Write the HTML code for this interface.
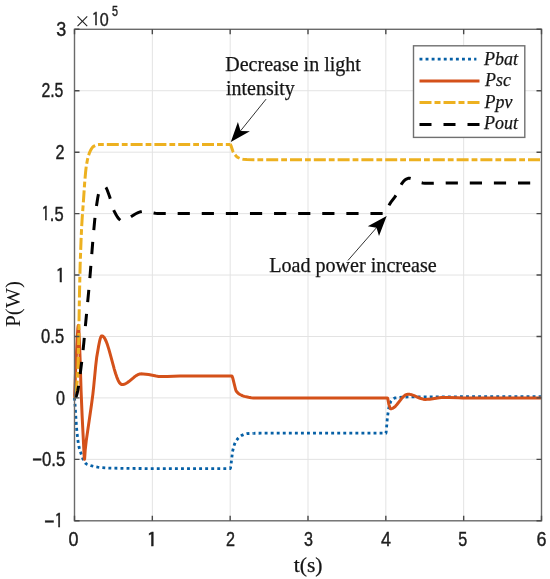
<!DOCTYPE html>
<html><head><meta charset="utf-8"><style>
html,body{margin:0;padding:0;background:#fff;}
svg{display:block;}
.sr{font-family:"Liberation Serif","Times New Roman",serif;fill:#151515;}
</style></head><body>
<svg width="550" height="579" viewBox="0 0 550 579">
<rect width="550" height="579" fill="#fff"/>
<g stroke="#e3e3e3" stroke-width="1"><line x1="152.33" y1="29.30" x2="152.33" y2="520.80"/><line x1="230.17" y1="29.30" x2="230.17" y2="520.80"/><line x1="308.00" y1="29.30" x2="308.00" y2="520.80"/><line x1="385.83" y1="29.30" x2="385.83" y2="520.80"/><line x1="463.67" y1="29.30" x2="463.67" y2="520.80"/><line x1="74.50" y1="459.36" x2="541.50" y2="459.36"/><line x1="74.50" y1="397.92" x2="541.50" y2="397.92"/><line x1="74.50" y1="336.49" x2="541.50" y2="336.49"/><line x1="74.50" y1="275.05" x2="541.50" y2="275.05"/><line x1="74.50" y1="213.61" x2="541.50" y2="213.61"/><line x1="74.50" y1="152.18" x2="541.50" y2="152.18"/><line x1="74.50" y1="90.74" x2="541.50" y2="90.74"/></g>
<path d="M74.50 397.92L75.16 406.23L76.48 426.89L76.95 432.18L77.81 439.55L78.43 444.09L78.99 446.92L79.77 449.80L81.95 456.30L82.93 458.87L84.37 461.63L84.99 462.61L85.55 463.32L86.02 463.73L86.82 464.21L88.80 465.06L90.98 465.70L95.73 466.84L97.67 467.16L100.40 467.44L108.16 468.02L112.95 468.20L125.73 468.40L149.06 468.58L230.19 468.58L230.34 468.39L230.52 467.86L230.89 465.83L232.27 453.76L232.56 451.70L232.87 450.14L233.69 446.80L234.47 444.31L235.38 442.25L236.47 440.36L237.89 438.54L238.92 437.50L239.93 436.62L241.47 435.59L243.96 434.43L245.50 433.88L246.86 433.60L253.52 433.30" fill="none" stroke="#0660A6" stroke-width="2.8" stroke-dasharray="2.9 3.15" stroke-dashoffset="0.15"/><path d="M253.52 433.30L261.05 433.19L385.83 433.19L386.05 432.58L386.30 430.56L387.35 417.90L388.40 410.44L389.22 405.93L389.57 404.55L389.94 403.49L390.50 402.15L391.09 401.03L391.98 399.84L392.84 399.10L393.62 398.55" fill="none" stroke="#0660A6" stroke-width="2.8" stroke-dasharray="2.9 3.15" stroke-dashoffset="0.97"/><path d="M393.62 398.55L394.32 398.18L394.98 397.96L398.33 397.52L403.05 397.12L408.15 396.95L466.53 396.75L541.50 396.70" fill="none" stroke="#0660A6" stroke-width="2.8" stroke-dasharray="2.9 3.15" stroke-dashoffset="0.00"/>
<path d="M74.50 397.92L75.59 370.68L77.17 338.82L77.83 328.72L78.12 326.24L78.26 325.64L78.39 325.43L78.59 326.19L78.80 328.56L79.31 338.69L80.12 359.61L81.08 390.74L82.13 416.03L84.17 456.18L84.33 458.57L84.46 459.36L84.58 458.91L84.70 457.73L85.22 449.73L86.23 440.85L91.51 404.47L92.85 394.35L93.69 386.58L95.67 366.03L96.66 357.56L98.47 346.89L99.70 340.76L100.24 338.64L100.75 337.14L101.24 336.22L101.47 335.97L101.70 335.88L102.17 335.94L102.79 336.18L103.43 336.71L103.86 337.18L104.47 338.01L105.05 339.01L106.22 341.51L107.46 344.85L108.81 349.09L110.28 354.31L114.27 369.10L115.58 373.47L116.71 376.83L118.07 380.18L119.31 382.48L120.01 383.41L120.66 384.02L121.08 384.30L121.80 384.52L122.91 384.47L123.96 384.26L125.15 383.85L126.32 383.27L127.52 382.53L128.83 381.58L133.96 377.28L136.20 375.64L137.41 374.93L138.63 374.38L139.72 374.04L140.85 373.87L143.23 373.89L145.87 374.15L148.54 374.58L156.13 376.07L158.56 376.39L160.80 376.53L167.34 376.47L180.00 376.05L185.59 375.94L231.74 375.93L231.96 376.06L232.19 376.43L232.72 377.92L235.67 389.75L236.02 390.59L237.00 392.04L237.83 392.97L238.77 393.75L239.99 394.52L241.45 395.26L242.87 395.85L244.35 396.34L248.54 397.32L251.20 397.77L253.44 397.92L387.39 397.92L387.60 398.20L387.84 399.00L388.93 404.62L390.00 407.87L390.35 408.53L390.66 408.74L391.57 408.64L392.51 408.34L393.54 407.78L394.51 407.05L395.58 406.05L396.73 404.78L401.40 398.84L403.46 396.56L404.61 395.57L405.68 394.88L406.81 394.41L407.78 394.25L409.73 394.36L411.85 394.82L414.13 395.64L418.85 397.76L420.92 398.57L423.15 399.17L425.26 399.40L427.36 399.35L429.63 399.17L439.25 397.76L441.62 397.53L443.80 397.44L448.55 397.49L458.30 397.84L462.77 397.92L541.50 397.92" fill="none" stroke="#D4511A" stroke-width="3" stroke-linejoin="round"/>
<path d="M74.50 397.92L74.69 397.68L74.91 397.18L75.38 395.40L76.10 391.56L76.52 388.61L77.26 381.00L77.89 370.95L78.27 358.59L78.78 336.49L79.46 294.46L80.14 265.17L81.12 238.38L81.68 226.70L82.24 217.23L83.35 202.34L84.66 182.85L85.55 172.66L86.23 166.52L87.30 160.45L87.91 157.75L88.53 155.41L89.56 152.51L90.53 150.47L91.45 148.83L92.60 147.24L93.14 146.69L93.67 146.31L95.13 145.55L96.41 145.02L97.58 144.69L98.69 144.56L230.17 144.56" fill="none" stroke="#EDB120" stroke-width="3" stroke-dasharray="12 3 5.8 3" stroke-dashoffset="18.21"/><path d="M230.17 144.56L230.38 144.64L230.59 144.87L231.06 145.79L232.60 150.58L233.18 152.01L235.03 154.72L235.89 155.74L236.70 156.56L237.54 157.22L238.51 157.75L240.03 158.45L241.41 158.93L243.11 159.28L246.78 159.51L253.44 159.67L541.50 159.67" fill="none" stroke="#EDB120" stroke-width="3" stroke-dasharray="12 3 5.8 3" stroke-dashoffset="3.54"/>
<path d="M74.50 397.92L74.91 397.80L75.36 397.43L76.02 396.64L76.35 396.05L77.05 393.90L77.79 390.50L78.57 385.91L79.46 379.69L82.48 355.87L83.78 343.20L88.61 292.04L90.22 273.68L92.95 239.32L94.66 220.62L95.73 211.05L97.67 198.19L98.38 194.46L99.02 191.84L99.45 190.64L99.87 189.92L101.37 188.30L102.79 187.21L103.92 186.71L104.99 186.59L105.28 186.72L105.59 186.98L106.26 187.93L107.40 190.50L109.76 197.06L110.46 199.37L112.56 207.13L113.14 208.80L114.16 211.13L115.93 214.48L117.41 216.95L118.34 218.31L119.00 219.05L120.46 220.32L121.20 220.79L121.84 220.98L122.74 220.93L123.77 220.71L125.91 219.99L126.69 219.65L127.91 218.91L130.58 217.02L134.51 214.42L135.75 213.73L138.09 212.64L139.39 212.14L140.54 211.83L142.60 211.53L144.18 211.41L145.99 211.53L149.59 212.32L155.37 213.23L157.80 213.51L159.90 213.61L385.83 213.61" fill="none" stroke="#000" stroke-width="3" stroke-dasharray="12.2 11.9" stroke-dashoffset="23.05"/><path d="M385.83 213.61L386.05 213.53L386.26 213.29L386.73 212.34L388.42 206.83L389.14 205.13L390.00 203.62L390.95 202.15L394.75 197.13L396.38 194.63L397.57 192.32L400.25 186.33L401.44 184.14L403.40 181.55L404.98 179.93L405.62 179.45L406.28 179.11L407.51 178.58L408.44 178.30L409.05 178.23L409.65 178.25L410.97 178.61L412.24 179.22L415.27 181.00L416.81 181.63L420.16 182.40L422.69 182.90L424.94 183.22L427.03 183.37L431.89 183.33L442.81 182.98L447.50 182.90L541.50 182.89" fill="none" stroke="#000" stroke-width="3" stroke-dasharray="12.2 11.9" stroke-dashoffset="15.17"/>
<rect x="74.5" y="29.3" width="467.0" height="491.49999999999994" fill="none" stroke="#6a6a6a" stroke-width="1.4"/>
<path d="M74.50 520.80V515.80M74.50 29.30V34.30M152.33 520.80V515.80M152.33 29.30V34.30M230.17 520.80V515.80M230.17 29.30V34.30M308.00 520.80V515.80M308.00 29.30V34.30M385.83 520.80V515.80M385.83 29.30V34.30M463.67 520.80V515.80M463.67 29.30V34.30M541.50 520.80V515.80M541.50 29.30V34.30M74.50 520.80H79.50M541.50 520.80H536.50M74.50 459.36H79.50M541.50 459.36H536.50M74.50 397.92H79.50M541.50 397.92H536.50M74.50 336.49H79.50M541.50 336.49H536.50M74.50 275.05H79.50M541.50 275.05H536.50M74.50 213.61H79.50M541.50 213.61H536.50M74.50 152.18H79.50M541.50 152.18H536.50M74.50 90.74H79.50M541.50 90.74H536.50M74.50 29.30H79.50M541.50 29.30H536.50" stroke="#4a4a4a" stroke-width="1.4" fill="none"/>
<g fill="#1e1e1e" stroke="#1e1e1e" stroke-width="0.4"><text x="56.20" y="35.60" style="font-family:'Liberation Sans',Arial,sans-serif;font-size:19.60px;" textLength="10.00" lengthAdjust="spacingAndGlyphs">3</text><text x="41.40" y="96.70" style="font-family:'Liberation Sans',Arial,sans-serif;font-size:19.60px;" textLength="22.00" lengthAdjust="spacingAndGlyphs">2.5</text><text x="55.40" y="159.00" style="font-family:'Liberation Sans',Arial,sans-serif;font-size:19.60px;" textLength="9.00" lengthAdjust="spacingAndGlyphs">2</text><text x="41.60" y="221.00" style="font-family:'Liberation Sans',Arial,sans-serif;font-size:19.60px;" textLength="22.00" lengthAdjust="spacingAndGlyphs"><tspan style="font-family:'IPAGothic',sans-serif">1</tspan>.5</text><text x="55.60" y="282.60" style="font-family:'Liberation Sans',Arial,sans-serif;font-size:19.60px;" textLength="10.00" lengthAdjust="spacingAndGlyphs"><tspan style="font-family:'IPAGothic',sans-serif">1</tspan></text><text x="41.10" y="343.00" style="font-family:'Liberation Sans',Arial,sans-serif;font-size:19.60px;" textLength="23.00" lengthAdjust="spacingAndGlyphs">0.5</text><text x="55.90" y="404.60" style="font-family:'Liberation Sans',Arial,sans-serif;font-size:19.60px;" textLength="9.00" lengthAdjust="spacingAndGlyphs">0</text><text x="32.20" y="465.80" style="font-family:'Liberation Sans',Arial,sans-serif;font-size:19.60px;" textLength="33.00" lengthAdjust="spacingAndGlyphs">−0.5</text><text x="44.30" y="528.30" style="font-family:'Liberation Sans',Arial,sans-serif;font-size:19.60px;" textLength="19.00" lengthAdjust="spacingAndGlyphs">−<tspan style="font-family:'IPAGothic',sans-serif">1</tspan></text><text x="68.60" y="546.20" style="font-family:'Liberation Sans',Arial,sans-serif;font-size:19.60px;" textLength="10.00" lengthAdjust="spacingAndGlyphs">0</text><text x="146.50" y="547.20" style="font-family:'Liberation Sans',Arial,sans-serif;font-size:19.60px;" textLength="11.00" lengthAdjust="spacingAndGlyphs"><tspan style="font-family:'IPAGothic',sans-serif">1</tspan></text><text x="226.00" y="546.20" style="font-family:'Liberation Sans',Arial,sans-serif;font-size:19.60px;" textLength="9.00" lengthAdjust="spacingAndGlyphs">2</text><text x="304.00" y="546.20" style="font-family:'Liberation Sans',Arial,sans-serif;font-size:19.60px;" textLength="9.00" lengthAdjust="spacingAndGlyphs">3</text><text x="381.00" y="546.20" style="font-family:'Liberation Sans',Arial,sans-serif;font-size:19.60px;" textLength="10.00" lengthAdjust="spacingAndGlyphs">4</text><text x="458.30" y="546.20" style="font-family:'Liberation Sans',Arial,sans-serif;font-size:19.60px;" textLength="9.00" lengthAdjust="spacingAndGlyphs">5</text><text x="536.50" y="546.20" style="font-family:'Liberation Sans',Arial,sans-serif;font-size:19.60px;" textLength="10.00" lengthAdjust="spacingAndGlyphs">6</text><text x="74.20" y="26.60" style="font-family:'Noto Sans CJK JP','Liberation Sans',sans-serif;font-size:16.28px;stroke:none">×</text><text x="91.80" y="25.60" style="font-family:'Liberation Sans',Arial,sans-serif;font-size:18.80px;" textLength="17.00" lengthAdjust="spacingAndGlyphs"><tspan style="font-family:'IPAGothic',sans-serif">1</tspan>0</text><text x="112.10" y="16.20" style="font-family:'Liberation Sans',Arial,sans-serif;font-size:14.80px;" textLength="6.00" lengthAdjust="spacingAndGlyphs">5</text></g>
<text class="sr" transform="translate(20.3,304) rotate(-90)" text-anchor="middle" font-size="21.2">P(W)</text>
<!-- legend -->
<rect x="413.5" y="45.8" width="111.3" height="91.6" fill="#fff" stroke="#707070" stroke-width="1.4"/>
<line x1="419.5" y1="59.2" x2="476.4" y2="59.2" stroke="#0660A6" stroke-width="2.8" stroke-dasharray="2.9 3.17"/>
<line x1="419.5" y1="80.9" x2="479.5" y2="80.9" stroke="#D4511A" stroke-width="3"/>
<line x1="419.5" y1="102.5" x2="480" y2="102.5" stroke="#EDB120" stroke-width="3" stroke-dasharray="12 3 6 3"/>
<line x1="419.5" y1="124.5" x2="480" y2="124.5" stroke="#000" stroke-width="3" stroke-dasharray="12 12"/>
<!-- annotations -->
<g fill="#151515" stroke="#151515" stroke-width="0.25"><text x="225.30" y="70.85" style="font-family:'Liberation Serif','Times New Roman',serif;font-size:20.00px;">Decrease in light</text><text x="225.90" y="94.80" style="font-family:'Liberation Serif','Times New Roman',serif;font-size:20.01px;">intensity</text><text x="269.15" y="272.35" style="font-family:'Liberation Serif','Times New Roman',serif;font-size:20.11px;">Load power increase</text><text x="484.05" y="65.00" style="font-family:'Liberation Serif','Times New Roman',serif;font-size:17.97px;font-style:italic">Pbat</text><text x="485.05" y="86.20" style="font-family:'Liberation Serif','Times New Roman',serif;font-size:17.84px;font-style:italic">Psc</text><text x="484.55" y="108.20" style="font-family:'Liberation Serif','Times New Roman',serif;font-size:17.91px;font-style:italic">Ppv</text><text x="484.05" y="129.00" style="font-family:'Liberation Serif','Times New Roman',serif;font-size:17.97px;font-style:italic">Pout</text><text x="293.70" y="572.05" style="font-family:'Liberation Serif','Times New Roman',serif;font-size:21.60px;">t(s)</text></g>
<line x1="266.1" y1="99.1" x2="238" y2="134" stroke="#333" stroke-width="1"/>
<path d="M230.8 142.1L237.9 122L240.6 131L249.9 131.2Z" fill="#000"/>
<line x1="348" y1="260.4" x2="378" y2="226" stroke="#333" stroke-width="1"/>
<path d="M386.7 216.1L367.8 226.2L376.5 227.8L379 236Z" fill="#000"/>
</svg>
</body></html>
